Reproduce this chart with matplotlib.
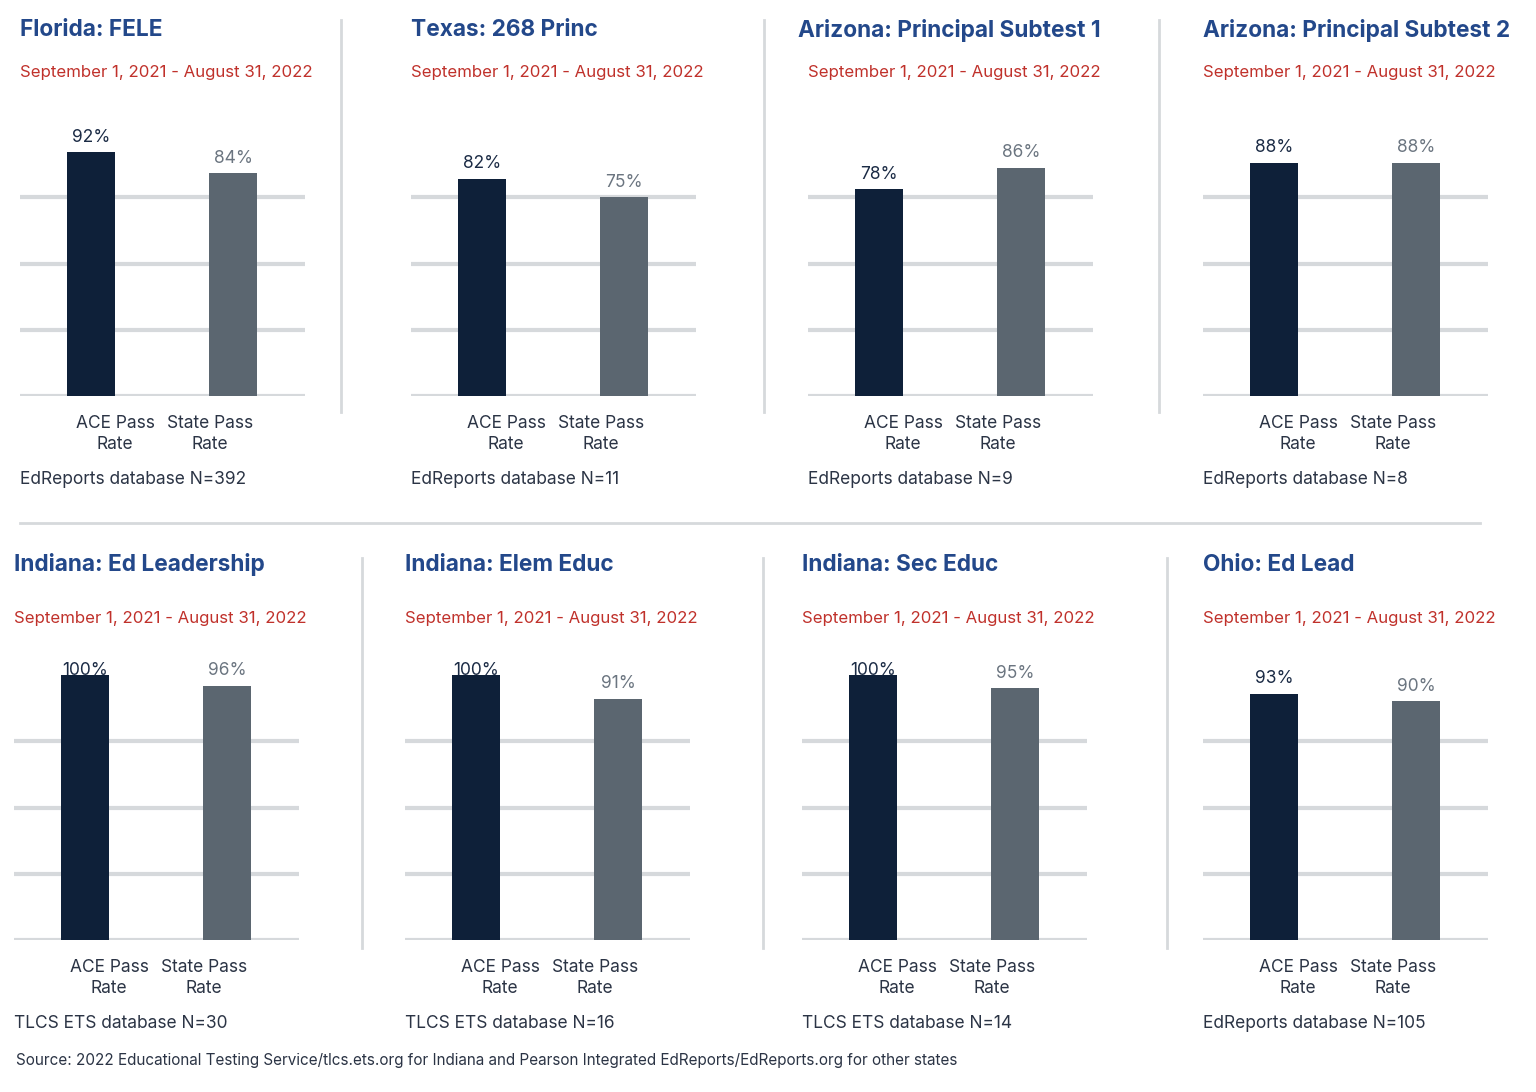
import numpy as np
import matplotlib
matplotlib.use("Agg")
import matplotlib.pyplot as plt
from matplotlib.lines import Line2D

plt.rcParams['font.family'] = ['Inter', 'DejaVu Sans']

# chart data
titles = ["Florida: FELE", "Texas: 268 Princ", "Arizona: Principal Subtest 1",
          "Arizona: Principal Subtest 2", "Indiana: Ed Leadership",
          "Indiana: Elem Educ", "Indiana: Sec Educ", "Ohio: Ed Lead"]
period = "September 1, 2021 - August 31, 2022"
ace_rate = [92, 82, 78, 88, 100, 100, 100, 93]
state_rate = [84, 75, 86, 88, 96, 91, 95, 90]
categories = ["ACE Pass\nRate", "State Pass\nRate"]
notes = ["EdReports database N=392", "EdReports database N=11",
         "EdReports database N=9", "EdReports database N=8",
         "TLCS ETS database N=30", "TLCS ETS database N=16",
         "TLCS ETS database N=14", "EdReports database N=105"]
source = ("Source: 2022 Educational Testing Service/tlcs.ets.org for Indiana and "
          "Pearson Integrated EdReports/EdReports.org for other states")

W, H = 1536, 1092
fig = plt.figure(figsize=(W / 100, H / 100), dpi=100)

navy = "#0e2039"
grey = "#5b6670"
title_c = "#23488a"
red_c = "#c0312b"
text_c = "#2b3445"
line_c = "#d6d9dc"

# layout in pixels
ax_left = [20, 411, 808, 1203, 14, 405, 802, 1203]
title_left = [20, 411, 798, 1203, 14, 405, 802, 1203]
base_y = [396, 396, 396, 396, 940, 940, 940, 940]
ax_w, ax_h = 285, 265


def fx(x):
    return x / W


def fy(y):
    return 1 - y / H


for i in range(8):
    x0 = ax_left[i]
    yb = base_y[i]
    ax = fig.add_axes([fx(x0), fy(yb), ax_w / W, ax_h / H])
    vals = [ace_rate[i], state_rate[i]]
    for g in [0, 25, 50, 75]:
        ax.axhline(g, color=line_c, lw=3, zorder=0)
    ax.bar([0, 1], vals, width=0.34, color=[navy, grey], zorder=2)
    lab_cols = ["#1b2b45", "#6b7580"]
    for k, v in enumerate(vals):
        ly = min(v + 5.7, 101.6)
        ax.text(k, ly, f"{v}%", ha="center", va="center", fontsize=12.5,
                color=lab_cols[k], zorder=3, clip_on=False)
    ax.set_xlim(-0.5, 1.507)
    ax.set_ylim(0, 100)
    ax.axis("off")

    # texts
    ty = 30 if i < 4 else 565
    sy = 72 if i < 4 else 619
    fig.text(fx(title_left[i]), fy(ty), titles[i], ha="left", va="center",
             fontsize=16.3, fontweight="bold", color=title_c)
    fig.text(fx(x0), fy(sy), period, ha="left", va="center",
             fontsize=12.1, color=red_c)
    for k, c in enumerate(categories):
        cx = x0 + ax_w * (k + 1) / 3
        fig.text(fx(cx), fy(yb + 38), c, ha="center", va="center",
                 fontsize=12.5, color=text_c, linespacing=1.25)
    fig.text(fx(x0), fy(yb + 84), notes[i], ha="left", va="center",
             fontsize=12.5, color=text_c)

# separators
for x in [341, 764, 1159]:
    fig.add_artist(Line2D([fx(x), fx(x)], [fy(20), fy(412)], color=line_c, lw=2))
for x in [362, 763, 1167]:
    fig.add_artist(Line2D([fx(x), fx(x)], [fy(558), fy(948)], color=line_c, lw=2))
fig.add_artist(Line2D([fx(20), fx(1480)], [fy(523), fy(523)], color=line_c, lw=2))

fig.text(fx(16), fy(1061), source, ha="left", va="center", fontsize=11, color=text_c)

fig.savefig("out.png", dpi=100, facecolor="white")
